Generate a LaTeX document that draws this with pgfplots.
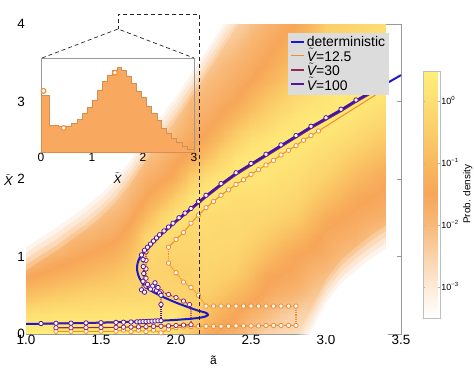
\documentclass[border=0pt]{standalone}
\usepackage{fontspec}
\setmainfont{Liberation Sans}
\usepackage{pgfplots}
\usepgfplotslibrary{patchplots}
\pgfplotsset{compat=1.18}
\definecolor{cdet}{RGB}{25,25,200}
\definecolor{c12}{RGB}{240,140,50}
\definecolor{c30}{RGB}{150,40,85}
\definecolor{c100}{RGB}{85,20,160}
\definecolor{legbg}{RGB}{220,220,220}
\definecolor{histfill}{RGB}{249,168,96}
\begin{document}
\begin{tikzpicture}
\begin{axis}[
 name=main, scale only axis, width=375bp, height=310bp,
 at={(0,0)}, anchor=south west,
 xmin=1, xmax=3.5, ymin=0, ymax=4,
 xtick={1,1.5,2,2.5,3,3.5}, ytick={0,1,2,3,4},
 /pgf/number format/assume math mode=true,
 x tick label style={/pgf/number format/.cd, fixed, fixed zerofill, precision=1, /tikz/.cd},
 tick label style={font=\fontsize{13.5}{14}\selectfont, inner sep=1bp},
 axis line style={gray!80}, tick style={gray!80, line width=0.5pt}, major tick length=4bp,
 xlabel={ã}, xlabel style={font=\fontsize{12}{12}\selectfont, at={(axis description cs:0.5,-0.084)}, anchor=center},
 ylabel={$\tilde{\textit{X}}$}, ylabel style={font=\fontsize{13}{13}\selectfont, rotate=-90, at={(axis description cs:-0.047,0.497)}, anchor=center},
 colormap={dens}{rgb255(0cm)=(255,255,255); rgb255(1cm)=(253,235,215); rgb255(2cm)=(250,210,170); rgb255(3cm)=(248,185,120); rgb255(4cm)=(247,166,88); rgb255(5cm)=(249,185,95); rgb255(6cm)=(251,205,105); rgb255(7cm)=(253,222,115); rgb255(7.96cm)=(255,240,122)},
 point meta min=-3.5, point meta max=0.48,
 colorbar,
 colorbar style={
  at={(1.059,0.052)}, anchor=south west,
  scale only axis, width=17bp, height=247bp,
  ytick={-3,-2,-1,0},
  yticklabels={10\textsuperscript{−3},10\textsuperscript{−2},10\textsuperscript{−1},10\textsuperscript{0}},
  yticklabel style={font=\fontsize{9}{10}\selectfont, inner sep=1bp},
  ylabel={Prob. density}, ylabel style={font=\fontsize{10}{11}\selectfont},
  axis line style={gray!50}, tick style={gray!60}, major tick length=2bp,
 },
 legend style={at={(0.699,0.971)}, anchor=north west, fill=legbg, draw=none,
   font=\fontsize{14}{14}\selectfont, inner sep=1.5bp, row sep=-4bp, cells={anchor=west}},
 legend image code/.code={\draw[#1] (0bp,0bp) -- (13bp,0bp);},
]
\addplot[surf, shader=interp, patch type=bilinear, mesh/ordering=y varies, point meta=\thisrow{L}, forget plot] table[x=a,y=X] {
a X L
1.0 0 0.4
1.0 0.25 0.0
1.0 0.5 -0.9
1.0 0.75 -1.6
1.0 1.0 -2.3
1.0 1.25 -2.6
1.0 1.5 -2.6
1.0 1.75 -2.6
1.0 2.0 -2.6
1.0 2.25 -2.6
1.0 2.5 -2.6
1.0 2.75 -2.6
1.0 3.0 -2.6
1.0 3.25 -2.6
1.0 3.5 -2.6
1.0 3.75 -2.6
1.0 4.0 -2.6

1.1 0 0.4
1.1 0.25 0.05
1.1 0.5 -0.75
1.1 0.75 -1.45
1.1 1.0 -2.0
1.1 1.25 -2.6
1.1 1.5 -2.6
1.1 1.75 -2.6
1.1 2.0 -2.6
1.1 2.25 -2.6
1.1 2.5 -2.6
1.1 2.75 -2.6
1.1 3.0 -2.6
1.1 3.25 -2.6
1.1 3.5 -2.6
1.1 3.75 -2.6
1.1 4.0 -2.6

1.2 0 0.4
1.2 0.25 0.1
1.2 0.5 -0.6
1.2 0.75 -1.3
1.2 1.0 -1.8
1.2 1.25 -2.4
1.2 1.5 -2.6
1.2 1.75 -2.6
1.2 2.0 -2.6
1.2 2.25 -2.6
1.2 2.5 -2.6
1.2 2.75 -2.6
1.2 3.0 -2.6
1.2 3.25 -2.6
1.2 3.5 -2.6
1.2 3.75 -2.6
1.2 4.0 -2.6

1.3 0 0.4
1.3 0.25 0.1
1.3 0.5 -0.5
1.3 0.75 -1.15
1.3 1.0 -1.65
1.3 1.25 -2.0
1.3 1.5 -2.5
1.3 1.75 -2.6
1.3 2.0 -2.6
1.3 2.25 -2.6
1.3 2.5 -2.6
1.3 2.75 -2.6
1.3 3.0 -2.6
1.3 3.25 -2.6
1.3 3.5 -2.6
1.3 3.75 -2.6
1.3 4.0 -2.6

1.4 0 0.4
1.4 0.25 0.1
1.4 0.5 -0.4
1.4 0.75 -1.0
1.4 1.0 -1.5
1.4 1.25 -1.9
1.4 1.5 -2.4
1.4 1.75 -2.6
1.4 2.0 -2.6
1.4 2.25 -2.6
1.4 2.5 -2.6
1.4 2.75 -2.6
1.4 3.0 -2.6
1.4 3.25 -2.6
1.4 3.5 -2.6
1.4 3.75 -2.6
1.4 4.0 -2.6

1.5 0 0.4
1.5 0.25 0.12
1.5 0.5 -0.35
1.5 0.75 -0.85
1.5 1.0 -1.35
1.5 1.25 -1.75
1.5 1.5 -2.1
1.5 1.75 -2.5
1.5 2.0 -2.6
1.5 2.25 -2.6
1.5 2.5 -2.6
1.5 2.75 -2.6
1.5 3.0 -2.6
1.5 3.25 -2.6
1.5 3.5 -2.6
1.5 3.75 -2.6
1.5 4.0 -2.6

1.6 0 0.4
1.6 0.25 0.15
1.6 0.5 -0.3
1.6 0.75 -0.7
1.6 1.0 -1.2
1.6 1.25 -1.6
1.6 1.5 -1.9
1.6 1.75 -2.3
1.6 2.0 -2.6
1.6 2.25 -2.6
1.6 2.5 -2.6
1.6 2.75 -2.6
1.6 3.0 -2.6
1.6 3.25 -2.6
1.6 3.5 -2.6
1.6 3.75 -2.6
1.6 4.0 -2.6

1.7 0 0.38
1.7 0.25 0.12
1.7 0.5 -0.25
1.7 0.75 -0.5
1.7 1.0 -0.8
1.7 1.25 -1.2
1.7 1.5 -1.6
1.7 1.75 -1.9
1.7 2.0 -2.2
1.7 2.25 -2.6
1.7 2.5 -2.6
1.7 2.75 -2.6
1.7 3.0 -2.6
1.7 3.25 -2.6
1.7 3.5 -2.6
1.7 3.75 -2.6
1.7 4.0 -2.6

1.8 0 0.35
1.8 0.25 0.1
1.8 0.5 -0.2
1.8 0.75 -0.3
1.8 1.0 -0.2
1.8 1.25 -0.3
1.8 1.5 -1.0
1.8 1.75 -1.5
1.8 2.0 -1.8
1.8 2.25 -2.1
1.8 2.5 -2.5
1.8 2.75 -2.6
1.8 3.0 -2.6
1.8 3.25 -2.6
1.8 3.5 -2.6
1.8 3.75 -2.6
1.8 4.0 -2.6

1.9 0 0.2
1.9 0.25 0.12
1.9 0.5 -0.25
1.9 0.75 -0.35
1.9 1.0 -0.3
1.9 1.25 0.0
1.9 1.5 -0.3
1.9 1.75 -1.1
1.9 2.0 -1.6
1.9 2.25 -1.9
1.9 2.5 -2.2
1.9 2.75 -2.6
1.9 3.0 -2.6
1.9 3.25 -2.6
1.9 3.5 -2.6
1.9 3.75 -2.6
1.9 4.0 -2.6

2.0 0 0.0
2.0 0.25 0.15
2.0 0.5 -0.3
2.0 0.75 -0.4
2.0 1.0 -0.3
2.0 1.25 -0.1
2.0 1.5 0.2
2.0 1.75 -0.5
2.0 2.0 -1.3
2.0 2.25 -1.6
2.0 2.5 -1.9
2.0 2.75 -2.2
2.0 3.0 -2.6
2.0 3.25 -2.6
2.0 3.5 -2.6
2.0 3.75 -2.6
2.0 4.0 -2.6

2.1 0 -0.6
2.1 0.25 -0.3
2.1 0.5 -0.4
2.1 0.75 -0.4
2.1 1.0 -0.3
2.1 1.25 -0.2
2.1 1.5 0.0
2.1 1.75 0.1
2.1 2.0 -0.5
2.1 2.25 -1.3
2.1 2.5 -1.6
2.1 2.75 -1.8
2.1 3.0 -2.0
2.1 3.25 -2.4
2.1 3.5 -2.6
2.1 3.75 -2.6
2.1 4.0 -2.6

2.2 0 -1.3
2.2 0.25 -0.8
2.2 0.5 -0.45
2.2 0.75 -0.3
2.2 1.0 -0.2
2.2 1.25 -0.1
2.2 1.5 -0.05
2.2 1.75 0.25
2.2 2.0 0.0
2.2 2.25 -0.8
2.2 2.5 -1.4
2.2 2.75 -1.7
2.2 3.0 -1.9
2.2 3.25 -2.1
2.2 3.5 -2.4
2.2 3.75 -2.6
2.2 4.0 -2.6

2.3 0 -1.6
2.3 0.25 -1.2
2.3 0.5 -0.7
2.3 0.75 -0.4
2.3 1.0 -0.25
2.3 1.25 -0.15
2.3 1.5 -0.1
2.3 1.75 0.1
2.3 2.0 0.2
2.3 2.25 -0.3
2.3 2.5 -0.9
2.3 2.75 -1.4
2.3 3.0 -1.7
2.3 3.25 -1.9
2.3 3.5 -2.1
2.3 3.75 -2.4
2.3 4.0 -2.6

2.4 0 -1.8
2.4 0.25 -1.5
2.4 0.5 -1.0
2.4 0.75 -0.5
2.4 1.0 -0.3
2.4 1.25 -0.15
2.4 1.5 -0.1
2.4 1.75 0.0
2.4 2.0 0.25
2.4 2.25 0.15
2.4 2.5 -0.4
2.4 2.75 -1.0
2.4 3.0 -1.5
2.4 3.25 -1.7
2.4 3.5 -1.9
2.4 3.75 -2.2
2.4 4.0 -2.5

2.5 0 -2.2
2.5 0.25 -1.8
2.5 0.5 -1.3
2.5 0.75 -0.9
2.5 1.0 -0.55
2.5 1.25 -0.3
2.5 1.5 -0.15
2.5 1.75 0.0
2.5 2.0 0.2
2.5 2.25 0.3
2.5 2.5 0.0
2.5 2.75 -0.6
2.5 3.0 -1.1
2.5 3.25 -1.5
2.5 3.5 -1.7
2.5 3.75 -1.9
2.5 4.0 -2.2

2.6 0 -2.5
2.6 0.25 -2.0
2.6 0.5 -1.6
2.6 0.75 -1.4
2.6 1.0 -0.9
2.6 1.25 -0.5
2.6 1.5 -0.2
2.6 1.75 0.0
2.6 2.0 0.15
2.6 2.25 0.3
2.6 2.5 0.15
2.6 2.75 -0.3
2.6 3.0 -0.7
2.6 3.25 -1.2
2.6 3.5 -1.5
2.6 3.75 -1.7
2.6 4.0 -1.9

2.7 0 -2.6
2.7 0.25 -2.3
2.7 0.5 -1.8
2.7 0.75 -1.5
2.7 1.0 -1.2
2.7 1.25 -0.75
2.7 1.5 -0.35
2.7 1.75 -0.1
2.7 2.0 0.05
2.7 2.25 0.2
2.7 2.5 0.3
2.7 2.75 0.0
2.7 3.0 -0.4
2.7 3.25 -0.85
2.7 3.5 -1.2
2.7 3.75 -1.45
2.7 4.0 -1.7

2.8 0 -2.7
2.8 0.25 -2.5
2.8 0.5 -1.9
2.8 0.75 -1.6
2.8 1.0 -1.5
2.8 1.25 -1.0
2.8 1.5 -0.5
2.8 1.75 -0.2
2.8 2.0 0.0
2.8 2.25 0.15
2.8 2.5 0.3
2.8 2.75 0.2
2.8 3.0 -0.1
2.8 3.25 -0.5
2.8 3.5 -0.9
2.8 3.75 -1.2
2.8 4.0 -1.5

2.9 0 -2.6
2.9 0.25 -2.5
2.9 0.5 -2.2
2.9 0.75 -1.9
2.9 1.0 -1.6
2.9 1.25 -1.3
2.9 1.5 -0.9
2.9 1.75 -0.5
2.9 2.0 -0.2
2.9 2.25 0.0
2.9 2.5 0.2
2.9 2.75 0.3
2.9 3.0 0.05
2.9 3.25 -0.2
2.9 3.5 -0.5
2.9 3.75 -0.8
2.9 4.0 -1.1

3.0 0 -2.6
3.0 0.25 -2.6
3.0 0.5 -2.4
3.0 0.75 -2.1
3.0 1.0 -1.7
3.0 1.25 -1.6
3.0 1.5 -1.3
3.0 1.75 -0.8
3.0 2.0 -0.4
3.0 2.25 -0.1
3.0 2.5 0.1
3.0 2.75 0.3
3.0 3.0 0.2
3.0 3.25 0.1
3.0 3.5 -0.1
3.0 3.75 -0.3
3.0 4.0 -0.5

3.1 0 -2.6
3.1 0.25 -2.6
3.1 0.5 -2.6
3.1 0.75 -2.3
3.1 1.0 -2.0
3.1 1.25 -1.7
3.1 1.5 -1.5
3.1 1.75 -1.1
3.1 2.0 -0.7
3.1 2.25 -0.35
3.1 2.5 0.0
3.1 2.75 0.2
3.1 3.0 0.3
3.1 3.25 0.15
3.1 3.5 0.0
3.1 3.75 -0.2
3.1 4.0 -0.4

3.2 0 -2.6
3.2 0.25 -2.6
3.2 0.5 -2.6
3.2 0.75 -2.5
3.2 1.0 -2.2
3.2 1.25 -1.8
3.2 1.5 -1.6
3.2 1.75 -1.4
3.2 2.0 -1.0
3.2 2.25 -0.6
3.2 2.5 -0.2
3.2 2.75 0.1
3.2 3.0 0.3
3.2 3.25 0.2
3.2 3.5 0.1
3.2 3.75 -0.1
3.2 4.0 -0.3

3.3 0 -2.6
3.3 0.25 -2.6
3.3 0.5 -2.6
3.3 0.75 -2.6
3.3 1.0 -2.4
3.3 1.25 -2.1
3.3 1.5 -1.7
3.3 1.75 -1.5
3.3 2.0 -1.2
3.3 2.25 -0.8
3.3 2.5 -0.4
3.3 2.75 -0.05
3.3 3.0 0.2
3.3 3.25 0.3
3.3 3.5 0.15
3.3 3.75 0.0
3.3 4.0 -0.15

3.4 0 -2.6
3.4 0.25 -2.6
3.4 0.5 -2.6
3.4 0.75 -2.6
3.4 1.0 -2.5
3.4 1.25 -2.3
3.4 1.5 -1.8
3.4 1.75 -1.6
3.4 2.0 -1.4
3.4 2.25 -1.0
3.4 2.5 -0.6
3.4 2.75 -0.2
3.4 3.0 0.1
3.4 3.25 0.3
3.4 3.5 0.2
3.4 3.75 0.1
3.4 4.0 0.0
};
% zero-density regions (upper left, lower right), feathered edges
\addplot[fill=white, draw=none, fill opacity=0.2, forget plot] coordinates {(0.98,0.80)(1.0,0.82)(1.1,0.95)(1.2,1.07)(1.3,1.21)(1.4,1.35)(1.5,1.51)(1.6,1.71)(1.7,1.95)(1.8,2.25)(1.9,2.51)(2.0,2.77)(2.1,3.05)(2.2,3.35)(2.3,3.65)(2.43,4.05)(0.98,4.05)};
\addplot[fill=white, draw=none, fill opacity=0.25, forget plot] coordinates {(0.98,0.87)(1.0,0.89)(1.1,1.02)(1.2,1.14)(1.3,1.28)(1.4,1.42)(1.5,1.58)(1.6,1.78)(1.7,2.02)(1.8,2.32)(1.9,2.58)(2.0,2.84)(2.1,3.12)(2.2,3.42)(2.3,3.72)(2.41,4.05)(0.98,4.05)};
\addplot[fill=white, draw=none, fill opacity=0.33, forget plot] coordinates {(0.98,0.95)(1.0,0.97)(1.1,1.1)(1.2,1.22)(1.3,1.36)(1.4,1.5)(1.5,1.66)(1.6,1.86)(1.7,2.1)(1.8,2.4)(1.9,2.66)(2.0,2.92)(2.1,3.2)(2.2,3.5)(2.3,3.8)(2.38,4.05)(0.98,4.05)};
\addplot[fill=white, draw=none, fill opacity=0.5, forget plot] coordinates {(0.98,1.03)(1.0,1.05)(1.1,1.18)(1.2,1.30)(1.3,1.44)(1.4,1.58)(1.5,1.74)(1.6,1.94)(1.7,2.18)(1.8,2.48)(1.9,2.74)(2.0,3.0)(2.1,3.28)(2.2,3.58)(2.3,3.88)(2.36,4.05)(0.98,4.05)};
\addplot[fill=white, draw=none, forget plot] coordinates {(0.98,1.10)(1.0,1.12)(1.1,1.25)(1.2,1.37)(1.3,1.51)(1.4,1.65)(1.5,1.81)(1.6,2.01)(1.7,2.25)(1.8,2.55)(1.9,2.81)(2.0,3.07)(2.1,3.35)(2.2,3.65)(2.3,3.95)(2.33,4.05)(0.98,4.05)};
\addplot[fill=white, draw=none, fill opacity=0.2, forget plot] coordinates {(2.80,-0.05)(3.0,0.70)(3.1,0.95)(3.2,1.12)(3.3,1.27)(3.4,1.40)(3.41,1.40)(3.41,-0.05)};
\addplot[fill=white, draw=none, fill opacity=0.25, forget plot] coordinates {(2.82,-0.05)(3.0,0.63)(3.1,0.88)(3.2,1.05)(3.3,1.20)(3.4,1.33)(3.41,1.33)(3.41,-0.05)};
\addplot[fill=white, draw=none, fill opacity=0.33, forget plot] coordinates {(2.84,-0.05)(3.0,0.55)(3.1,0.8)(3.2,0.97)(3.3,1.12)(3.4,1.25)(3.41,1.25)(3.41,-0.05)};
\addplot[fill=white, draw=none, fill opacity=0.5, forget plot] coordinates {(2.86,-0.05)(3.0,0.47)(3.1,0.72)(3.2,0.89)(3.3,1.04)(3.4,1.17)(3.41,1.17)(3.41,-0.05)};
\addplot[fill=white, draw=none, forget plot] coordinates {(2.88,-0.05)(3.0,0.40)(3.1,0.65)(3.2,0.82)(3.3,0.97)(3.4,1.10)(3.41,1.10)(3.41,-0.05)};
% V=12.5
\addplot[c12, line width=1pt, mark=*, mark size=2.2bp, mark options={fill=white, draw=c12, line width=0.8pt, solid}, forget plot] coordinates {
(1.2,0.035)(1.3,0.035)(1.4,0.035)(1.5,0.035)(1.6,0.035)(1.65,0.05)(1.7,0.03)(1.75,0.05)(1.8,0.03)(1.85,0.05)(1.9,0.015)(1.95,0.06)(2.0,0.08)(2.05,0.09)(2.1,0.095)(2.15,0.10)(2.2,0.10)(2.25,0.10)(2.3,0.10)(2.35,0.10)(2.4,0.105)(2.45,0.105)(2.5,0.105)(2.55,0.105)(2.6,0.11)(2.65,0.11)(2.7,0.11)(2.75,0.11)(2.8,0.11)};
\addplot[c12, line width=1pt, forget plot] coordinates {(2.95,2.62)(3.4,3.17)};
\addplot[c12, line width=1pt, mark=*, mark size=2.2bp, mark options={fill=white, draw=c12, line width=0.8pt, solid}, forget plot] coordinates {
(1.95,1.12)(2.0,1.22)(2.05,1.31)(2.1,1.43)(2.15,1.535)(2.2,1.63)(2.25,1.71)(2.3,1.79)(2.35,1.86)(2.4,1.93)(2.45,1.99)(2.5,2.06)(2.55,2.12)(2.6,2.18)(2.65,2.24)(2.7,2.31)(2.75,2.37)(2.8,2.43)(2.85,2.50)(2.9,2.56)(2.95,2.62)};
\addplot[c12, line width=1.1pt, densely dotted, mark=*, mark size=2.2bp, mark options={fill=white, draw=c12, line width=0.8pt, solid}, forget plot] coordinates {
(1.95,0.915)(2.0,0.79)(2.05,0.67)(2.1,0.60)(2.15,0.50)(2.2,0.36)(2.25,0.36)(2.3,0.36)(2.35,0.36)(2.4,0.36)(2.45,0.36)(2.5,0.36)(2.55,0.36)(2.6,0.36)(2.65,0.36)(2.7,0.36)(2.75,0.36)(2.8,0.36)};
\addplot[c12, line width=1.1pt, densely dotted, forget plot] coordinates {(1.95,1.12)(1.95,0.915)};
\addplot[c12, line width=1.1pt, densely dotted, forget plot] coordinates {(2.8,0.36)(2.8,0.11)};
% V=30
\addplot[c30, line width=1.2pt, mark=*, mark size=2.2bp, mark options={fill=white, draw=c30, line width=0.8pt, solid}, forget plot] coordinates {
(1.2,0.08)(1.3,0.08)(1.4,0.082)(1.5,0.084)(1.6,0.086)(1.65,0.088)(1.7,0.09)(1.75,0.092)(1.8,0.095)(1.85,0.098)(1.9,0.10)(1.95,0.105)(2.0,0.11)(2.05,0.115)(2.1,0.12)};
\addplot[c30, line width=1.2pt, forget plot] coordinates {
(1.8,1.06)(1.85,1.17)(1.9,1.27)(2.0,1.44)(2.1,1.60)(2.2,1.76)(2.3,1.91)(2.4,2.05)(2.5,2.17)(2.6,2.29)(2.7,2.41)(2.8,2.53)(2.9,2.65)(3.0,2.76)(3.1,2.87)(3.2,2.99)(3.3,3.10)(3.4,3.21)};
\addplot[c30, line width=1.1pt, densely dotted, mark=*, mark size=2.2bp, mark options={fill=white, draw=c30, line width=0.8pt, solid}, forget plot] coordinates {
(1.8,1.06)(1.80,0.95)(1.80,0.84)(1.80,0.72)(1.80,0.62)(1.85,0.58)(1.9,0.545)(1.95,0.51)(2.0,0.47)(2.05,0.425)(2.09,0.38)};
\addplot[c30, line width=1.1pt, densely dotted, forget plot] coordinates {(2.09,0.38)(2.1,0.30)(2.1,0.12)};
% deterministic
\addplot[cdet, line width=2pt, smooth, tension=0.4, forget plot] coordinates {
(1.0,0.13)(1.2,0.135)(1.4,0.142)(1.6,0.152)(1.8,0.164)(1.9,0.172)(2.0,0.182)(2.1,0.197)(2.16,0.21)(2.195,0.225)(2.213,0.245)(2.21,0.262)(2.19,0.28)(2.15,0.30)(2.09,0.34)(2.0,0.405)(1.9,0.49)(1.82,0.575)(1.775,0.66)(1.75,0.75)(1.74,0.84)(1.745,0.92)(1.76,0.99)(1.79,1.07)(1.85,1.19)(1.9,1.29)(2.0,1.46)(2.1,1.62)(2.2,1.78)(2.3,1.93)(2.4,2.07)(2.5,2.19)(2.6,2.31)(2.7,2.43)(2.8,2.55)(2.9,2.67)(3.0,2.78)(3.1,2.89)(3.2,3.01)(3.3,3.12)(3.4,3.23)(3.5,3.34)};
% V=100
\addplot[c100, line width=1.3pt, mark=*, mark size=2.2bp, mark options={fill=white, draw=c100, line width=0.8pt, solid}, forget plot] coordinates {
(1.1,0.135)(1.2,0.138)(1.3,0.14)(1.4,0.143)(1.5,0.146)(1.6,0.15)(1.65,0.152)(1.7,0.155)(1.74,0.157)(1.76,0.158)(1.78,0.16)(1.8,0.162)(1.82,0.164)(1.84,0.166)(1.86,0.168)(1.88,0.17)(1.9,0.172)};
\addplot[c100, line width=1.3pt, mark=*, mark size=2.2bp, mark options={fill=white, draw=c100, line width=0.8pt, solid}, forget plot] coordinates {
(1.77,1.02)(1.79,1.08)(1.81,1.12)(1.83,1.16)(1.85,1.20)(1.87,1.24)(1.89,1.28)(1.92,1.33)(1.95,1.38)(1.98,1.43)(2.02,1.50)(2.06,1.56)(2.1,1.62)(2.15,1.71)(2.2,1.79)(2.3,1.94)(2.4,2.08)(2.5,2.20)(2.6,2.32)(2.7,2.44)(2.8,2.56)(2.9,2.68)(3.0,2.79)(3.1,2.90)(3.2,3.02)(3.3,3.13)(3.4,3.24)};
\addplot[c100, line width=1.1pt, densely dotted, mark=*, mark size=2.2bp, mark options={fill=white, draw=c100, line width=0.8pt, solid}, forget plot] coordinates {
(1.78,0.96)(1.782,0.87)(1.785,0.78)(1.78,0.68)(1.77,0.57)(1.79,0.54)(1.81,0.64)(1.83,0.58)(1.845,0.62)(1.86,0.66)(1.87,0.56)(1.88,0.60)(1.89,0.53)(1.9,0.50)(1.9,0.38)};
\addplot[c100, line width=1.1pt, densely dotted, forget plot] coordinates {(1.77,1.02)(1.78,0.96)};
\addplot[c100, line width=1.1pt, densely dotted, forget plot] coordinates {(1.9,0.38)(1.9,0.172)};
\addlegendimage{cdet, line width=2pt}
\addlegendentry{deterministic}
\addlegendimage{c12, line width=1.5pt}
\addlegendentry{$\tilde{\textit{V}}$=12.5}
\addlegendimage{c30, line width=1.5pt}
\addlegendentry{$\tilde{\textit{V}}$=30}
\addlegendimage{c100, line width=2pt}
\addlegendentry{$\tilde{\textit{V}}$=100}
\end{axis}
\begin{axis}[
 scale only axis, width=153bp, height=94bp,
 at={(15bp,182bp)}, anchor=south west,
 xmin=0, xmax=3, ymin=0, ymax=1, clip=false,
 xtick={0,1,2,3}, ytick=\empty, xtick pos=left,
 /pgf/number format/assume math mode=true,
 tick label style={font=\fontsize{12}{12}\selectfont, inner sep=1bp},
 axis line style={gray!80}, tick style={gray!80}, major tick length=3bp,
 xlabel={$\tilde{\textit{X}}$}, xlabel style={font=\fontsize{12}{12}\selectfont, at={(axis description cs:0.5,-0.277)}, anchor=center},
]
\addplot[const plot, fill=histfill, draw=histfill!85!black, line width=0.4pt] coordinates {
(0,0.60)(0.17,0.287)(0.33,0.27)(0.40,0.26)(0.50,0.277)(0.60,0.305)(0.71,0.347)(0.81,0.41)(0.90,0.475)(1.0,0.553)(1.10,0.66)(1.20,0.75)(1.30,0.82)(1.39,0.865)(1.49,0.897)(1.58,0.865)(1.68,0.81)(1.77,0.73)(1.87,0.65)(1.97,0.578)(2.07,0.49)(2.17,0.41)(2.27,0.333)(2.36,0.25)(2.46,0.2)(2.56,0.145)(2.66,0.10)(2.76,0.064)(2.86,0.035)(3.0,0.035)} \closedcycle;
\addplot[only marks, mark=*, mark size=2.4bp, mark options={fill=white, draw=c12, line width=1.1pt}] coordinates {(0.05,0.65)(0.445,0.255)(1.45,0.844)};
\end{axis}
\draw[black!85, line width=0.7pt, dash pattern=on 4bp off 3bp] (173bp,0bp) -- (173bp,320bp) -- (92bp,320bp) -- (92bp,305bp);
\draw[black!85, line width=0.7pt, dash pattern=on 4bp off 3bp] (16bp,276bp) -- (92bp,305bp) -- (168bp,276bp);
\pgfresetboundingbox
\useasboundingbox (-26bp,-56bp) rectangle (448bp,334bp);
\end{tikzpicture}
\end{document}
